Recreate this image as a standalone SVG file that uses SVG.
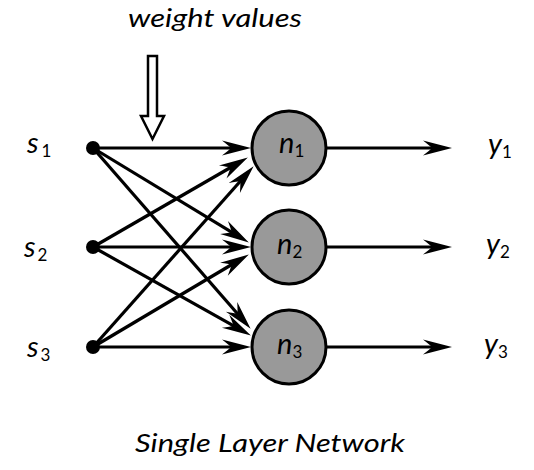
<svg xmlns="http://www.w3.org/2000/svg" width="534" height="470" viewBox="0 0 534 470">
<style>
.lbl{font-family:Lato,"Open Sans","Liberation Sans",sans-serif;font-style:italic;fill:#000}
.sub{font-family:Lato,"Open Sans","Liberation Sans",sans-serif;font-style:normal;font-size:17px}
.conn{stroke:#000;stroke-width:3.2;fill:none;marker-end:url(#ah)}
.node{fill:#999999;stroke:#000;stroke-width:3}
.dot{fill:#000}
</style>
<defs>
<marker id="ah" markerUnits="userSpaceOnUse" orient="auto" markerWidth="40" markerHeight="20" viewBox="-20 -10 32 20" refX="0" refY="0">
<path d="M11,0 L-18,-7.5 Q-11,-2 -9,0 Q-11,2 -18,7.5 Z" fill="#000"/>
</marker>
</defs>
<rect width="534" height="470" fill="#fff"/>
<text class="lbl" x="215" y="27" font-size="25" text-anchor="middle" textLength="174" lengthAdjust="spacingAndGlyphs">weight values</text>
<polygon id="weight-arrow" points="148,56 157,56 157,116 164,116 152.5,139 141,116 148,116" fill="#fff" stroke="#000" stroke-width="2.5" stroke-linejoin="miter"/>
<g id="connectors">
<line class="conn" x1="93" y1="148" x2="240" y2="148"/>
<line class="conn" x1="93" y1="148" x2="239.4" y2="236.8"/>
<line class="conn" x1="93" y1="148" x2="243.4" y2="320.5"/>
<line class="conn" x1="93" y1="247" x2="238.3" y2="163"/>
<line class="conn" x1="93" y1="247" x2="240" y2="247"/>
<line class="conn" x1="93" y1="247" x2="241.3" y2="330.1"/>
<line class="conn" x1="93" y1="347" x2="246.3" y2="174.5"/>
<line class="conn" x1="93" y1="347" x2="239.4" y2="260"/>
<line class="conn" x1="93" y1="347" x2="240" y2="347"/>
<line class="conn" x1="327" y1="148" x2="441" y2="148"/>
<line class="conn" x1="327" y1="247" x2="441" y2="247"/>
<line class="conn" x1="327" y1="347" x2="441" y2="347"/>
</g>
<g id="s1"><circle class="dot" cx="93" cy="148" r="7"/><text class="lbl" x="27" y="153" font-size="29">s<tspan class="sub" dx="3" dy="4">1</tspan></text></g>
<g id="s2"><circle class="dot" cx="93" cy="247" r="7"/><text class="lbl" x="24" y="257" font-size="29">s<tspan class="sub" dx="2" dy="4">2</tspan></text></g>
<g id="s3"><circle class="dot" cx="93" cy="347" r="7"/><text class="lbl" x="27" y="357" font-size="29">s<tspan class="sub" dx="2" dy="4">3</tspan></text></g>
<g id="n1"><circle class="node" cx="289" cy="148" r="37"/><text class="lbl" x="279" y="153" font-size="29">n<tspan class="sub" dy="4">1</tspan></text></g>
<g id="n2"><circle class="node" cx="289" cy="247" r="37"/><text class="lbl" x="277" y="254" font-size="29">n<tspan class="sub" dy="4">2</tspan></text></g>
<g id="n3"><circle class="node" cx="289" cy="347" r="37"/><text class="lbl" x="277" y="354" font-size="29">n<tspan class="sub" dy="4">3</tspan></text></g>
<g id="y1"><text class="lbl" x="488" y="154" font-size="29">y<tspan class="sub" dy="4">1</tspan></text></g>
<g id="y2"><text class="lbl" x="486" y="254" font-size="29">y<tspan class="sub" dy="4">2</tspan></text></g>
<g id="y3"><text class="lbl" x="484" y="354" font-size="29">y<tspan class="sub" dy="4">3</tspan></text></g>
<text class="lbl" x="270" y="452" font-size="25" text-anchor="middle" textLength="270" lengthAdjust="spacingAndGlyphs">Single Layer Network</text>
</svg>
